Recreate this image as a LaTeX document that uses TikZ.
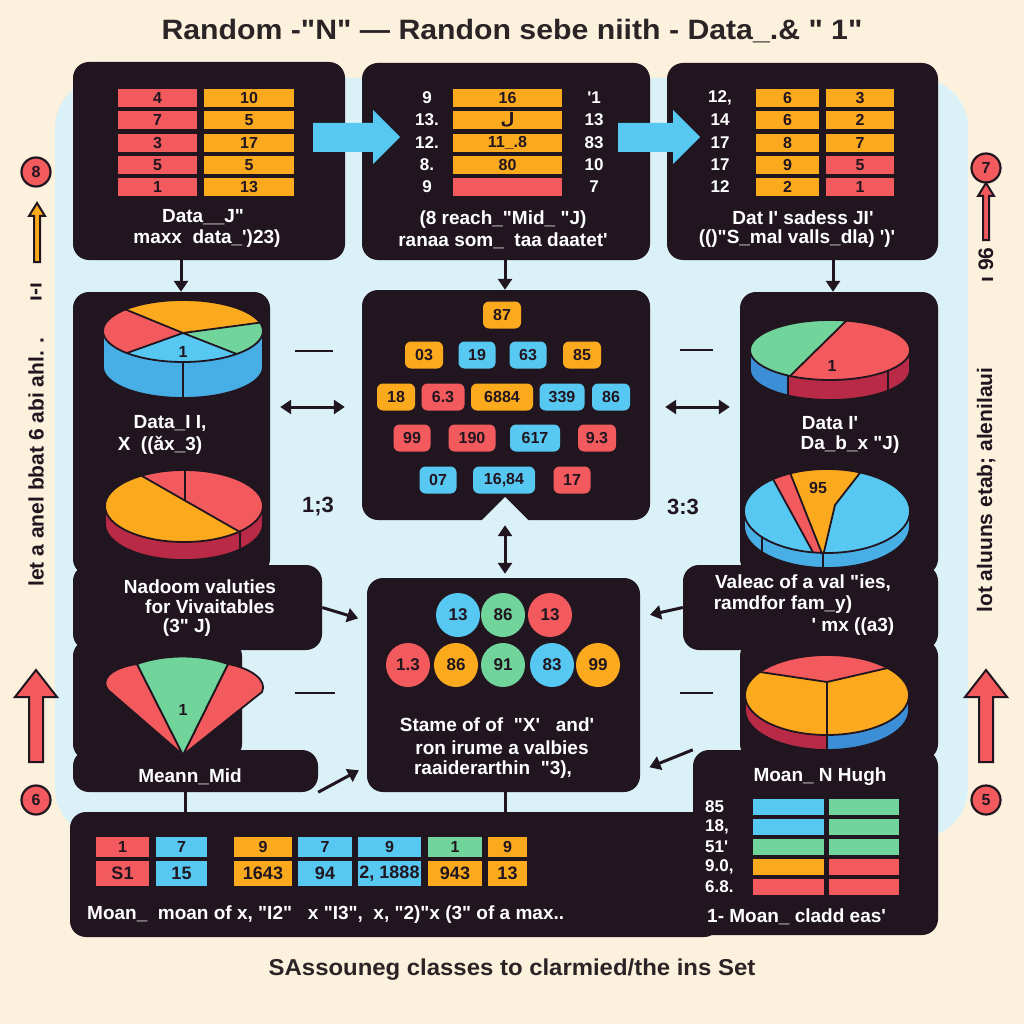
\documentclass[tikz,border=0pt]{standalone}
\usepackage{fontspec}
\setmainfont{Liberation Sans}
\newfontfamily\lsans{Liberation Sans}
\newfontfamily\djv{DejaVu Sans}
\usetikzlibrary{arrows.meta,calc}
\definecolor{dk}{HTML}{211620}
\definecolor{rd}{HTML}{F25A5E}
\definecolor{og}{HTML}{FBAA1E}
\definecolor{bl}{HTML}{57C8F2}
\definecolor{bl2}{HTML}{48AEE6}
\definecolor{dbl}{HTML}{3C8FD6}
\definecolor{gn}{HTML}{70D49B}
\definecolor{drd}{HTML}{B82A45}
\definecolor{cream}{HTML}{FBF1DC}
\definecolor{lblue}{HTML}{D9F1F7}
\definecolor{ttl}{HTML}{2A2426}
\begin{document}
\lsans
\begin{tikzpicture}[x=1pt,y=-1pt,
 panel/.style={fill=dk,draw=none,rounded corners=16pt,rectangle,inner sep=0pt},
 cell/.style={draw=dk,line width=1.5pt,rectangle,inner sep=0pt,text=dk,font=\bfseries\fontsize{16}{16}\selectfont},
 wt/.style={text=white,font=\bfseries\fontsize{19}{21}\selectfont,inner sep=0pt},
 num/.style={text=white,font=\bfseries\fontsize{17}{17}\selectfont,inner sep=0pt},
 pill/.style={rectangle,rounded corners=6pt,minimum height=27pt,inner sep=0pt,text=dk,font=\bfseries\fontsize{16}{16}\selectfont},
 ball/.style={circle,minimum size=44pt,inner sep=0pt,text=dk,font=\bfseries\fontsize{17}{17}\selectfont},
 arr/.style={-{Triangle[length=11pt,width=14pt]},line width=3pt,draw=dk},
 darr/.style={{Triangle[length=11pt,width=14pt]}-{Triangle[length=11pt,width=14pt]},line width=3pt,draw=dk},
 pieline/.style={draw=dk,line width=1.8pt},
 badge/.style={circle,fill=rd,draw=dk,line width=2.2pt,minimum size=29pt,inner sep=0pt,text=dk,font=\bfseries\fontsize{16}{16}\selectfont},
 sidetxt/.style={text=dk,font=\bfseries\fontsize{21}{21}\selectfont,rotate=90,inner sep=0pt},
 sidearr/.style={draw=dk,line width=2pt,line join=miter},
 pietxt/.style={text=dk,font=\bfseries\fontsize{16}{16}\selectfont,inner sep=0pt}
]
\useasboundingbox (0,0) rectangle (1024,1024);
\fill[cream] (0,0) rectangle (1024,1024);
\fill[lblue,rounded corners=50pt] (55,78) rectangle (968,838);

% ---------- title ----------
\node[text=ttl,font=\bfseries\fontsize{28}{28}\selectfont,inner sep=0pt,xscale=1.08] (title) at (512,31) {Random -"N" — Randon sebe niith - Data\_.\& " 1"};

% ---------- panels ----------
\node[panel,minimum width=272,minimum height=198] (pT1) at (209,161) {};
\node[panel,minimum width=288,minimum height=197] (pT2) at (506,161.5) {};
\node[panel,minimum width=271,minimum height=197] (pT3) at (802.5,161.5) {};
\node[panel,minimum width=650,minimum height=125] (pB) at (395,874.5) {};
\node[panel,minimum width=197,minimum height=283] (pL) at (171.5,433.5) {};
\node[panel,minimum width=249,minimum height=85] (pLlab) at (197.5,607.5) {};
\node[panel,minimum width=169,minimum height=120] (pLlow) at (157.5,700) {};
\node[panel,minimum width=245,minimum height=42] (pLbot) at (195.5,771) {};
\node[panel,minimum width=288,minimum height=230] (pC) at (506,405) {};
\node[panel,minimum width=273,minimum height=214] (pLC) at (503.5,685) {};
\node[panel,minimum width=198,minimum height=283] (pR) at (839,433.5) {};
\node[panel,minimum width=255,minimum height=85] (pRlab) at (810.5,607.5) {};
\node[panel,minimum width=198,minimum height=120] (pRlow) at (839,700) {};
\node[panel,minimum width=245,minimum height=185] (pRbot) at (815.5,842.5) {};
\fill[lblue] (481,521) -- (505,497) -- (529,521) -- cycle;

% ---------- blue block arrows (between top panels) ----------
\fill[bl] (313,123) -- (373,123) -- (373,110) -- (400,137) -- (373,164) -- (373,152) -- (313,152) -- cycle;
\fill[bl] (618,123) -- (673,123) -- (673,110) -- (700,137) -- (673,164) -- (673,152) -- (618,152) -- cycle;

% ---------- top-left table ----------
\foreach \y/\a/\b [count=\i] in {98/4/10,120/7/5,143/3/17,165/5/5,187/1/13}{
  \node[cell,fill=rd,minimum width=81,minimum height=20] (tla\i) at (157.5,\y) {\a};
  \node[cell,fill=og,minimum width=92,minimum height=20] (tlb\i) at (249,\y) {\b};
}
\node[wt] (t1a) at (203,217) {Data\_\_J"};
\node[wt] (t1b) at (207,239) {maxx\ \ data\_')23)};

% ---------- top-middle table ----------
\foreach \y/\l/\m/\r [count=\i] in {98/9/16/'1,120/13./{\djv ل}/13,143/12./11\_.8/83,165/8./80/10}{
  \node[num] (tml\i) at (427,\y) {\l};
  \node[cell,fill=og,minimum width=111,minimum height=20] (tmc\i) at (507.5,\y) {\m};
  \node[num] (tmr\i) at (594,\y) {\r};
}
\node[num] (tml5) at (427,187) {9};
\node[cell,fill=rd,minimum width=111,minimum height=20] (tmc5) at (507.5,187) {};
\node[num] (tmr5) at (594,187) {7};
\node[wt] (t2a) at (503,220) {(8 reach\_"Mid\_ "J)};
\node[wt] (t2b) at (503,241) {ranaa som\_\ \ taa daatet'};

% ---------- top-right table ----------
\foreach \y/\l/\a/\b/\c [count=\i] in {98/{12,}/6/3/og,120/14/6/2/og,143/17/8/7/og,165/17/9/5/rd,187/12/2/1/rd}{
  \node[num] (trl\i) at (720,\y) {\l};
  \node[cell,fill=og,minimum width=65,minimum height=20] (tra\i) at (787.5,\y) {\a};
  \node[cell,fill=\c,minimum width=70,minimum height=20] (trb\i) at (860,\y) {\b};
}
\node[wt] (t3a) at (803,218) {Dat I' sadess JI'};
\node[wt] (t3b) at (797,239) {(()"S\_mal valls\_dla) ')'};

% ---------- pie L1 ----------
\filldraw[fill=bl2,pieline] (103,331) -- (103,367) arc[start angle=180,end angle=360,x radius=80pt,y radius=31pt] -- (263,331) -- cycle;
\draw[pieline] (183,362) -- (183,398);
\begin{scope}
  \clip (183,331) ellipse [x radius=80pt,y radius=31pt];
  \fill[bl] (100,295) rectangle (266,367);
  \fill[og] (183,333) -- (61,283) -- (61,280) -- (331,280) -- (331,313) -- cycle;
  \fill[rd] (183,333) -- (61,283) -- (40,283) -- (40,383) -- (43,383) -- cycle;
  \fill[gn] (183,333) -- (331,313) -- (350,313) -- (350,387) -- (321,387) -- cycle;
  \draw[pieline] (61,283) -- (183,333) -- (331,313) (43,383) -- (183,333) -- (321,387);
\end{scope}
\draw[pieline] (183,331) ellipse [x radius=80pt,y radius=31pt];
\node[pietxt] (l1n) at (183,352) {1};
\node[wt] (lta) at (170,423) {Data\_I I,};
\node[wt] (ltb) at (160,445) {X\ \ ((ǎx\_3)};

% ---------- pie L2 ----------
\filldraw[fill=drd,pieline] (105,506) -- (105,524) arc[start angle=180,end angle=360,x radius=79pt,y radius=36pt] -- (263,506) -- cycle;
\draw[pieline] (240,532) -- (240,550);
\begin{scope}
  \clip (184,506) ellipse [x radius=79pt,y radius=36pt];
  \fill[rd] (100,465) rectangle (268,545);
  \fill[og] (82.5,442) -- (292.5,562) -- (60,600) -- (60,442) -- cycle;
  \draw[pieline] (82.5,442) -- (292.5,562) (185,465) -- (185,501);
\end{scope}
\draw[pieline] (184,506) ellipse [x radius=79pt,y radius=36pt];
\node[wt] (lla) at (200,587) {Nadoom valuties};
\node[wt] (llb) at (210,607) {for Vivaitables};
\node[wt] (llc) at (187,628) {(3" J)};

% ---------- fan lower left ----------
\filldraw[fill=rd,pieline] (183,755) -- (108,690) .. controls (100,680) and (110,668) .. (137,664) -- cycle;
\filldraw[fill=rd,pieline] (183,755) -- (228,664) .. controls (250,668) and (268,680) .. (262,692) -- cycle;
\filldraw[fill=gn,pieline] (183,755) -- (137,664) .. controls (165,654) and (200,654) .. (228,664) -- cycle;
\node[pietxt] (fn) at (183,710) {1};
\node[wt] (lma) at (190,777) {Meann\_Mid};

% ---------- center pills ----------
\foreach \x/\y/\t/\c/\w [count=\i] in {
  502/315/87/og/38,
  424/355/03/og/38, 477/355/19/bl/37, 528/355/63/bl/37, 582/355/85/og/38,
  396/397/18/og/38, 443/397/6.3/rd/43, 502/397/6884/og/62, 562/397/339/bl/45, 611/397/86/bl/38,
  412/438/99/rd/37, 472/438/190/rd/47, 535/438/617/bl/50, 597/438/9.3/rd/38,
  438/480/07/bl/37, 504/480/{16,84}/bl/62, 572/480/17/rd/37}{
  \node[pill,fill=\c,minimum width=\w] (pc\i) at (\x,\y) {\t};
}

% ---------- lower center balls ----------
\foreach \x/\y/\t/\c [count=\i] in {458/615/13/bl,503/615/86/gn,550/615/13/rd,
  408/665/1.3/rd,456/665/86/og,503/665/91/gn,552/665/83/bl,598/665/99/og}{
  \node[ball,fill=\c] (bc\i) at (\x,\y) {\t};
}
\node[wt] (lca) at (497,725) {Stame of of\ \ "X'\ \ \ and'};
\node[wt] (lcb) at (502,748) {ron irume a valbies};
\node[wt] (lcc) at (493,770) {raaiderarthin\ \ "3),};

% ---------- pie R1 ----------
\begin{scope}
  \clip (750,350) -- (750,370) arc[start angle=180,end angle=360,x radius=80pt,y radius=30pt] -- (910,350) -- cycle;
  \fill[dbl] (740,340) rectangle (788,410);
  \fill[drd] (788,340) rectangle (920,410);
\end{scope}
\draw[pieline] (750,350) -- (750,370) arc[start angle=180,end angle=360,x radius=80pt,y radius=30pt] -- (910,350);
\draw[pieline] (788,375.5) -- (788,395.5) (888,370.7) -- (888,390.7);
\begin{scope}
  \clip (830,350) ellipse [x radius=80pt,y radius=30pt];
  \fill[rd] (740,310) rectangle (920,390);
  \fill[gn] (887.7,280) -- (765.6,400) -- (740,400) -- (740,280) -- cycle;
  \draw[pieline] (887.7,280) -- (765.6,400);
\end{scope}
\draw[pieline] (830,350) ellipse [x radius=80pt,y radius=30pt];
\node[pietxt] (r1n) at (832,366) {1};
\node[wt] (rta) at (830,423) {Data I'};
\node[wt] (rtb) at (850,445) {Da\_b\_x "J)};

% ---------- pie R2 ----------
\filldraw[fill=bl2,pieline] (744,511) -- (744,526) arc[start angle=180,end angle=360,x radius=83pt,y radius=42pt] -- (910,511) -- cycle;
\draw[pieline] (762,537) -- (762,552) (823,553) -- (823,568);
\begin{scope}
  \clip (827,511) ellipse [x radius=83pt,y radius=42pt];
  \fill[bl] (740,465) rectangle (915,560);
  \fill[og] (785,460) -- (870,460) -- (835,505) -- (823,556) -- cycle;
  \fill[rd] (768,470) -- (785,460) -- (823,556) -- (815,556) -- cycle;
  \draw[pieline] (768,470) -- (815,556) (785,460) -- (823,556) (870,460) -- (835,505) -- (823,556);
\end{scope}
\draw[pieline] (827,511) ellipse [x radius=83pt,y radius=42pt];
\node[pietxt] (r2n) at (818,488) {95};
\node[wt] (rla) at (803,583) {Valeac of a val "ies,};
\node[wt] (rlb) at (783,605) {ramdfor fam\_y)};
\node[wt] (rlc) at (853,627) {' mx ((a3)};

% ---------- pie R3 ----------
\begin{scope}
  \clip (745,695) -- (745,710) arc[start angle=180,end angle=360,x radius=82pt,y radius=40pt] -- (909,695) -- cycle;
  \fill[drd] (740,690) rectangle (827,760);
  \fill[dbl] (827,690) rectangle (915,760);
\end{scope}
\draw[pieline] (745,695) -- (745,710) arc[start angle=180,end angle=360,x radius=82pt,y radius=40pt] -- (909,695);
\begin{scope}
  \clip (827,695) ellipse [x radius=82pt,y radius=40pt];
  \fill[og] (740,650) rectangle (915,740);
  \fill[rd] (740,669) -- (827,682) -- (905,664) -- (905,640) -- (740,640) -- cycle;
  \draw[pieline] (740,669) -- (827,682) -- (905,664) (827,682) -- (827,740);
\end{scope}
\draw[pieline] (827,695) ellipse [x radius=82pt,y radius=40pt];
\draw[pieline] (827,735) -- (827,750);
\node[wt] (rma) at (820,777) {Moan\_ N Hugh};

% ---------- right-bottom table ----------
\foreach \y/\l/\a/\b [count=\i] in {807/85/bl/gn,827/{18,}/bl/gn,847/51'/gn/gn,867/{9.0,}/og/rd,887/6.8./rd/rd}{
  \node[num,anchor=west] (rbl\i) at (705,\y) {\l};
  \node[cell,fill=\a,minimum width=73,minimum height=18] (rba\i) at (788.5,\y) {};
  \node[cell,fill=\b,minimum width=72,minimum height=18] (rbb\i) at (864,\y) {};
}
\node[wt,anchor=west] (rbt) at (707,917) {1- Moan\_ cladd eas'};

% ---------- bottom strip table ----------
\foreach \xa/\xb/\ca/\cb/\ta/\tb [count=\i] in {95/150/rd/rd/1/S1,155/208/bl/bl/7/15,233/293/og/og/9/1643,297/353/bl/bl/7/94,357/422/bl/bl/9/{2, 1888},427/483/gn/og/1/943,487/528/og/og/9/13}{
  \node[cell,fill=\ca,minimum width=\xb-\xa,minimum height=21] (bsa\i) at ({(\xa+\xb)/2},847) {\ta};
  \node[cell,fill=\cb,minimum width=\xb-\xa,minimum height=27,font=\bfseries\fontsize{18}{18}\selectfont] (bsb\i) at ({(\xa+\xb)/2},873.5) {\tb};
}
\node[wt,anchor=west] (bst) at (87,915) {Moan\_\ \ moan of x, "I2"\ \ \ x "I3",\ \ x, "2)"x (3" of a max..};

% ---------- connectors ----------
\coordinate (x1) at (181,0);
\coordinate (x2) at (505,0);
\coordinate (x3) at (833,0);
\coordinate (x1b) at (185,0);
\coordinate (yA) at (0,407);
\coordinate (yB) at (0,621);
\coordinate (yC) at (0,766);
\coordinate (yD) at (0,617);
\coordinate (yE) at (0,771);
\draw[arr] (pT1.south -| x1) -- (pL.north -| x1);
\draw[arr] (pT2.south -| x2) -- (pC.north -| x2);
\draw[arr] (pT3.south -| x3) -- (pR.north -| x3);
\draw[darr,shorten <=10pt,shorten >=17pt] (pL.east |- yA) -- (pC.west |- yA);
\draw[darr,shorten <=15pt,shorten >=10pt] (pC.east |- yA) -- (pR.west |- yA);
\draw[darr,shorten <=5pt,shorten >=4pt] (pC.south -| x2) -- (pLC.north -| x2);
\draw[arr,shorten >=9pt] (pLlab.east) -- (pLC.west |- yB);
\draw[arr,shorten >=9pt] (pLbot.south east) -- (pLC.west |- yC);
\draw[arr,shorten >=10pt] (pRlab.west) -- (pLC.east |- yD);
\draw[arr,shorten >=10pt] (pRbot.north west) -- (pLC.east |- yE);
\draw[line width=3pt,dk] (pLbot.south -| x1b) -- (pB.north -| x1b);
\draw[line width=3pt,dk] (pLC.south -| x2) -- (pB.north -| x2);

% dashes
\draw[line width=2.5pt,dk] (295,351) -- (333,351);
\draw[line width=2.5pt,dk] (295,693) -- (335,693);
\draw[line width=2.5pt,dk] (680,350) -- (713,350);
\draw[line width=2.5pt,dk] (680,693) -- (713,693);
\node[text=dk,font=\bfseries\fontsize{22}{22}\selectfont,inner sep=0pt] (r13) at (318,507) {1;3};
\node[text=dk,font=\bfseries\fontsize{22}{22}\selectfont,inner sep=0pt] (r33) at (683,507) {3:3};

% ---------- side decorations ----------
\node[badge] (b8) at (36,172) {8};
\filldraw[fill=og,sidearr] (34,262) -- (34,216) -- (29,216) -- (37,203) -- (45,216) -- (40,216) -- (40,262) -- cycle;
\node[sidetxt] (lsm) at (36,292) {ı-ı};
\node[sidetxt] (lst) at (36,462) {let a anel bbat 6 abi ahl. .};
\filldraw[fill=rd,sidearr] (29,762) -- (29,697) -- (15,697) -- (36,670) -- (57,697) -- (43,697) -- (43,762) -- cycle;
\node[badge] (b6) at (36,800) {6};
\node[badge] (b7) at (986,168) {7};
\filldraw[fill=rd,sidearr] (983,240) -- (983,196) -- (978,196) -- (986,183) -- (994,196) -- (989,196) -- (989,240) -- cycle;
\node[sidetxt] (rsm) at (986,265) {ı 96};
\node[sidetxt] (rst) at (986,490) {lot aluuns etab; alenilaui};
\filldraw[fill=rd,sidearr] (979,762) -- (979,697) -- (965,697) -- (986,670) -- (1007,697) -- (993,697) -- (993,762) -- cycle;
\node[badge] (b5) at (986,800) {5};

% ---------- bottom title ----------
\node[text=ttl,font=\bfseries\fontsize{23}{23}\selectfont,inner sep=0pt,xscale=1.04] (btitle) at (512,970) {SAssouneg classes to clarmied/the ins Set};
\end{tikzpicture}
\end{document}
